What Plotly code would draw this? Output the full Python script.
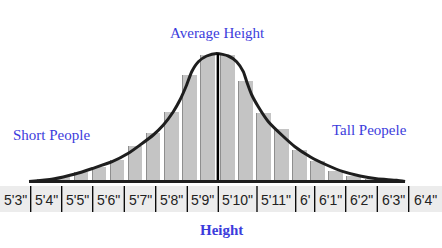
import plotly.graph_objects as go

# ---------------- data ----------------
height_labels = ["5'3\"", "5'4\"", "5'5\"", "5'6\"", "5'7\"", "5'8\"", "5'9\"",
                 "5'10\"", "5'11\"", "6'", "6'1\"", "6'2\"", "6'3\"", "6'4\""]

bar_values = [3, 5, 10, 15, 22, 36, 49, 70, 107, 127,
              126.5, 100.5, 68.5, 52.5, 31.5, 20.5, 11, 6, 2.7, 1.7]

curve_x = [-0.90, 0.43, 1.65, 2.64, 3.70, 4.60, 5.25, 5.98, 6.54, 7.09, 7.46,
           7.83, 8.11, 8.48, 8.94, 9.50, 10.14, 10.60, 10.97, 11.16, 11.44,
           11.80, 12.36, 13.10, 13.83, 14.67, 15.59, 16.51, 17.44, 18.36,
           19.47, 19.93]
curve_y = [0, 2.5, 7.5, 13.2, 19.8, 28.2, 36.5, 46.5, 56.5, 69.8, 81.5,
           96.5, 109.8, 119.8, 125.5, 128, 125.5, 119.8, 109.8, 99.8, 86.5,
           74.8, 59.8, 46.5, 34.8, 24.8, 16.5, 9.8, 5.5, 2.8, 1.2, 0]

title_text = "Height"
peak_text = "Average Height"
left_text = "Short People"
right_text = "Tall Peopele"

# ---------------- layout helpers ----------------
W, H = 442, 248
BLUE = "#3c3cdc"
X0, STEP = 45.3, 18.05          # pixel of x=0 and pixels per unit
BASE = 181.5                    # pixel row of the baseline
gap = 0.12
bar_x = [i + (gap if i >= len(bar_values) // 2 else 0) for i in range(len(bar_values))]
mid_x = (len(bar_values) // 2 - 1 + len(bar_values) // 2 + gap) / 2
bar_w = 13.7 / STEP
shade = 1.0 / STEP

x_range = [(0 - X0) / STEP, (W - X0) / STEP]
y_range = [BASE - H, BASE]

def px(p):
    return p / W

def py(p):
    return 1 - p / H

fig = go.Figure()

# bar shadow (darker left edge)
fig.add_trace(go.Bar(x=[v - shade for v in bar_x], y=bar_values, width=bar_w,
                     marker=dict(color="#8e8e8e", line=dict(width=0)),
                     hoverinfo="skip", showlegend=False))
fig.add_trace(go.Bar(x=bar_x, y=bar_values, width=bar_w,
                     marker=dict(color="#c4c4c4", line=dict(width=0)),
                     showlegend=False))

# distribution curve
fig.add_trace(go.Scatter(x=curve_x, y=curve_y, mode="lines",
                         line=dict(color="#1e1e1e", width=3, shape="spline", smoothing=0.6),
                         showlegend=False))
# average line
fig.add_trace(go.Scatter(x=[mid_x, mid_x], y=[0, max(curve_y)], mode="lines",
                         line=dict(color="#000000", width=2.5), showlegend=False))
# baseline
fig.add_trace(go.Scatter(x=[curve_x[0], curve_x[-1]], y=[0, 0], mode="lines",
                         line=dict(color="#1e1e1e", width=3), showlegend=False))

# label band
shapes = [dict(type="rect", xref="paper", yref="paper", x0=0, x1=1,
               y0=py(212), y1=py(186), fillcolor="#ececec", line=dict(width=0),
               layer="below")]
edges = [0, 30.7, 61.7, 92.7, 124.3, 155.7, 187.3, 218.3, 257, 295.7, 314.7,
         345.7, 377.3, 408.7, W]
for e in edges[1:-1]:
    shapes.append(dict(type="line", xref="paper", yref="paper", x0=px(e), x1=px(e),
                       y0=py(212), y1=py(186), line=dict(color="#000000", width=1.3)))

annotations = []
for i, lab in enumerate(height_labels):
    c = (edges[i] + edges[i + 1]) / 2
    annotations.append(dict(text=lab, xref="paper", yref="paper", x=px(c), y=py(199.5),
                            showarrow=False, xanchor="center", yanchor="middle",
                            font=dict(family="Liberation Sans, Arial", size=14, color="#222222")))

serif = "Liberation Serif, Times New Roman"
annotations += [
    dict(text=peak_text, xref="paper", yref="paper", x=px(217), y=py(33),
         showarrow=False, xanchor="center", yanchor="middle",
         font=dict(family=serif, size=15, color=BLUE)),
    dict(text=left_text, xref="paper", yref="paper", x=px(51), y=py(135),
         showarrow=False, xanchor="center", yanchor="middle",
         font=dict(family=serif, size=15, color=BLUE)),
    dict(text=right_text, xref="paper", yref="paper", x=px(369), y=py(130),
         showarrow=False, xanchor="center", yanchor="middle",
         font=dict(family=serif, size=15, color=BLUE)),
    dict(text="<b>" + title_text + "</b>", xref="paper", yref="paper", x=px(221), y=py(229.5),
         showarrow=False, xanchor="center", yanchor="middle",
         font=dict(family=serif, size=15, color=BLUE)),
]

fig.update_layout(
    width=W, height=H, margin=dict(l=0, r=0, t=0, b=0),
    paper_bgcolor="white", plot_bgcolor="rgba(0,0,0,0)",
    barmode="overlay", bargap=0,
    xaxis=dict(range=x_range, visible=False, fixedrange=True),
    yaxis=dict(range=y_range, visible=False, fixedrange=True),
    shapes=shapes, annotations=annotations,
)

fig.write_html("out.html", config={"displayModeBar": False})
